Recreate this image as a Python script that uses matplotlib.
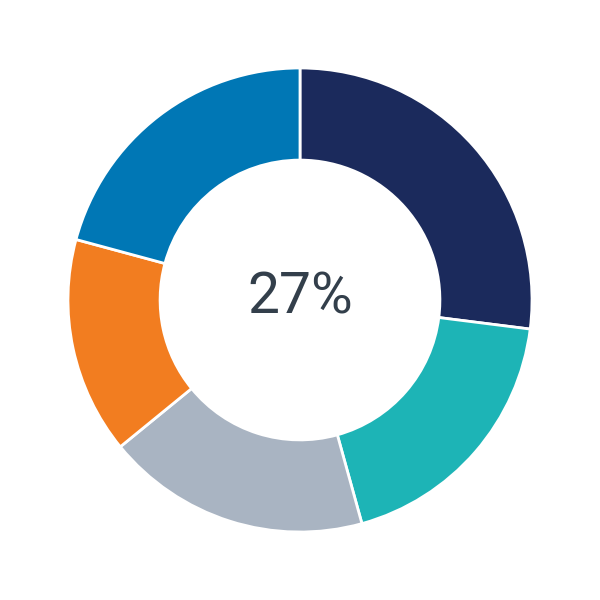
import matplotlib
matplotlib.use("Agg")
import matplotlib.pyplot as plt

categories = ["A", "B", "C", "D", "E"]
values = [27, 18.7, 18.4, 15.1, 20.8]
colors = ["#1B2A5C", "#1DB4B6", "#A9B4C2", "#F27D20", "#0077B5"]
center_label = "27%"

fig = plt.figure(figsize=(6, 6), dpi=100)
ax = fig.add_axes([0, 0, 1, 1])
ax.pie(values, colors=colors, startangle=90, counterclock=False,
       radius=1.0,
       wedgeprops=dict(width=0.397, edgecolor="white", linewidth=2))
ax.text(0, 0.01, center_label, ha="center", va="center", fontsize=41,
        color="#333F4B", family="Roboto", fontweight="normal")
L = 1.293
ax.set_xlim(-L, L)
ax.set_ylim(-L, L)
ax.set_aspect("equal")
ax.axis("off")
fig.savefig("out.png", dpi=100, facecolor="white")
